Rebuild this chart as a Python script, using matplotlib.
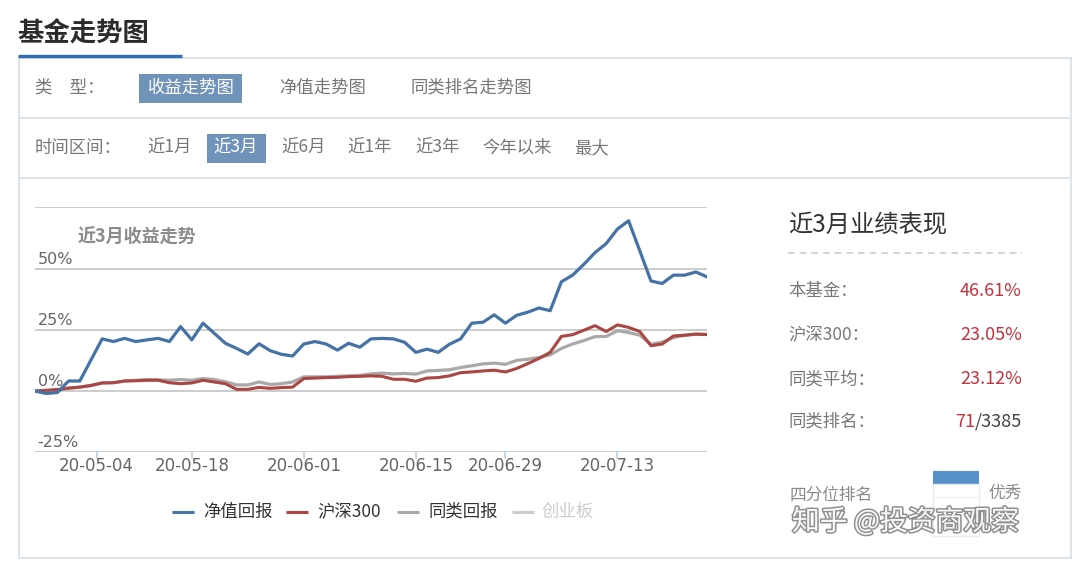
import bisect
import matplotlib
matplotlib.use("Agg")
import matplotlib.pyplot as plt
from matplotlib.patches import Rectangle
import matplotlib.patheffects as pe
import matplotlib.transforms as mtransforms

plt.rcParams['font.family'] = ['Noto Sans CJK SC', 'DejaVu Sans']
plt.rcParams['axes.unicode_minus'] = False

# ---------------- data ----------------
dates = ["04-23", "04-24", "04-27", "04-28", "04-29", "04-30",
         "05-06", "05-07", "05-08", "05-11", "05-12", "05-13", "05-14", "05-15",
         "05-18", "05-19", "05-20", "05-21", "05-22", "05-25", "05-26", "05-27",
         "05-28", "05-29",
         "06-01", "06-02", "06-03", "06-04", "06-05", "06-08", "06-09", "06-10",
         "06-11", "06-12", "06-15", "06-16", "06-17", "06-18", "06-19", "06-22",
         "06-23", "06-24", "06-29", "06-30",
         "07-01", "07-02", "07-03", "07-06", "07-07", "07-08", "07-09", "07-10",
         "07-13", "07-14", "07-15", "07-16", "07-17", "07-20", "07-21", "07-22",
         "07-23"]

fund = [0.0, -1.0, -0.6, 4.1, 4.1, 12.7, 21.3, 20.2, 21.5, 20.2,
        20.9, 21.5, 20.2, 26.3, 20.9, 27.7, 23.6, 19.5, 17.4, 15.1,
        19.3, 16.5, 15.0, 14.3, 19.2, 20.2, 19.2, 16.7, 19.5, 17.9,
        21.3, 21.5, 21.3, 19.9, 15.8, 17.1, 15.8, 19.1, 21.3, 27.7,
        28.1, 31.1, 27.7, 30.9, 32.2, 33.9, 32.8, 44.6, 47.3, 51.7,
        56.5, 60.2, 66.1, 69.5, 57.2, 44.9, 43.9, 47.3, 47.3, 48.6,
        46.61]

hs300 = [0.0, 0.3, 0.6, 1.2, 1.6, 2.3, 3.3, 3.4, 4.1, 4.2,
         4.4, 4.4, 3.4, 3.0, 3.3, 4.4, 3.7, 3.0, 0.7, 0.7,
         1.5, 1.1, 1.4, 1.6, 5.1, 5.3, 5.5, 5.6, 5.9, 6.0,
         6.2, 6.0, 4.8, 4.8, 4.0, 5.3, 5.5, 6.2, 7.5, 7.8,
         8.2, 8.5, 7.8, 9.2, 11.2, 13.3, 15.8, 22.3, 23.0, 24.8,
         26.7, 24.3, 27.0, 26.0, 24.3, 18.5, 19.2, 22.5, 22.8, 23.2,
         23.05]

peers = [0.0, 0.2, 0.5, 1.1, 1.6, 2.2, 3.3, 3.4, 4.1, 4.4,
         4.7, 4.6, 4.4, 4.7, 4.4, 5.1, 4.7, 3.8, 2.5, 2.5,
         3.7, 2.7, 3.0, 3.7, 5.8, 5.8, 5.8, 6.0, 6.2, 6.4,
         7.0, 7.3, 7.0, 7.2, 6.9, 8.2, 8.4, 8.7, 9.6, 10.3,
         11.1, 11.4, 10.9, 12.5, 13.0, 13.7, 14.8, 17.4, 19.2, 20.6,
         22.2, 22.3, 24.6, 23.9, 22.8, 19.1, 20.0, 21.8, 22.7, 23.3,
         23.12]

tick_dates = ["05-04", "05-18", "06-01", "06-15", "06-29", "07-13"]
y_ticks = [-25, 0, 25, 50, 75]
y_labels = {-25: "-25%", 0: "0%", 25: "25%", 50: "50%"}

series_names = ["净值回报", "沪深300", "同类回报", "创业板"]
series_colors = ["#4572A7", "#AA4643", "#A9A9A9", "#CCCCCC"]

type_tabs = ["收益走势图", "净值走势图", "同类排名走势图"]
time_tabs = ["近1月", "近3月", "近6月", "近1年", "近3年", "今年以来", "最大"]

perf_labels = ["本基金：", "沪深300：", "同类平均：", "同类排名："]
perf_values = ["46.61%", "23.05%", "23.12%"]
rank_value = ("71", "/3385")

# ---------------- figure ----------------
W, H = 1080, 565
fig = plt.figure(figsize=(W / 100, H / 100), dpi=100)
fig.patch.set_facecolor("white")

ov = fig.add_axes([0, 0, 1, 1])
ov.set_xlim(0, W)
ov.set_ylim(H, 0)
ov.axis("off")

# title
ov.text(17, 34, "基金走势图", fontsize=19, fontweight="bold", color="#2b2b2b",
        va="center", ha="left")
ov.plot([18, 182], [56, 56], color="#2f6db5", lw=2.4, solid_capstyle="butt")

# outer box and row separators
box_col = "#dde4ea"
ov.add_patch(Rectangle((18.5, 57.5), 1052, 500, fill=False, edgecolor=box_col, lw=1.5))
ov.plot([18.5, 1070.5], [118, 118], color=box_col, lw=1.5)
ov.plot([18.5, 1070.5], [178, 178], color=box_col, lw=1.5)

tab_fs = 12.5
sel_col = "#7093b9"
# type row
ov.text(35, 88, "类　型：", fontsize=tab_fs, color="#777777", va="center")
type_x = [148, 279, 411]
ov.add_patch(Rectangle((139, 74), 103, 29, color=sel_col, lw=0))
for i, (t, x) in enumerate(zip(type_tabs, type_x)):
    ov.text(x, 88, t, fontsize=tab_fs, color="white" if i == 0 else "#777777", va="center")

# time row
ov.text(35, 148, "时间区间：", fontsize=tab_fs, color="#777777", va="center")
time_x = [147, 213, 281, 347, 415, 482, 574]
ov.add_patch(Rectangle((207, 134), 59, 29, color=sel_col, lw=0))
for i, (t, x) in enumerate(zip(time_tabs, time_x)):
    ov.text(x, 148, t, fontsize=tab_fs, color="white" if i == 1 else "#777777", va="center")

# ---------------- chart ----------------
x0, x1 = 35, 707
ytop, ybot = 207.3, 452.3
ax = fig.add_axes([x0 / W, (H - ybot) / H, (x1 - x0) / W, (ybot - ytop) / H])
ax.set_facecolor("none")
for s in ax.spines.values():
    s.set_visible(False)
ax.set_xlim(0, len(dates) - 1)
ax.set_ylim(-25, 75)
ax.set_xticks([])
ax.set_yticks([])

for v in y_ticks:
    ax.axhline(v, color="#c6cdd4" if v == -25 else "#cccccc", lw=1.4, zorder=1)

trans = mtransforms.blended_transform_factory(ax.transAxes, ax.transData)
for v, lab in y_labels.items():
    ax.text(0.004, v + 0.8, lab, transform=trans, fontsize=11.5, color="#666666",
            ha="left", va="bottom", family=["DejaVu Sans"])

ax.text(0.064, 62.8, "近3月收益走势", transform=trans, fontsize=13, fontweight="bold",
        color="#8c8c8c", ha="left", va="center")

xs = list(range(len(dates)))
ax.plot(xs, peers, color=series_colors[2], lw=2.3, zorder=3, solid_joinstyle="round")
ax.plot(xs, hs300, color=series_colors[1], lw=2.2, zorder=4, solid_joinstyle="round")
ax.plot(xs, fund, color=series_colors[0], lw=2.3, zorder=5, solid_joinstyle="round")

# x ticks (category axis with ordinal positions)
for d in tick_dates:
    k = bisect.bisect_left(dates, d)
    pos = k if (k < len(dates) and dates[k] == d) else k - 0.5
    ax.plot([pos, pos], [-25, -27.4], color="#c0d0e0", lw=1.2, clip_on=False)
    ax.text(pos, -30.5, "20-" + d, fontsize=12, color="#666666", ha="center",
            va="center", family=["DejaVu Sans"], clip_on=False)

# legend
leg_line_x = [172, 286, 397, 512]
leg_text_x = [203, 317, 428, 542]
for name, col, lx, tx, in zip(series_names, series_colors, leg_line_x, leg_text_x):
    ov.plot([lx, lx + 22], [512, 512], color=col, lw=2.2, solid_capstyle="butt")
    ov.text(tx, 512, name, fontsize=12.5, color="#cccccc" if name == "创业板" else "#333333",
            va="center", ha="left")

# ---------------- right panel ----------------
ov.text(788, 225, "近3月业绩表现", fontsize=17.5, color="#333333", va="center", ha="left")
ov.plot([788, 1022], [253, 253], color="#cccccc", lw=1.2, ls=(0, (4, 3)))
row_y = [291, 335, 379, 422]
val_col = "#c4323f"
for lab, y in zip(perf_labels, row_y):
    ov.text(788, y, lab, fontsize=12.5, color="#777777", va="center", ha="left")
for val, y in zip(perf_values, row_y[:3]):
    ov.text(1022, y, val, fontsize=13, color=val_col, va="center", ha="right")
t2 = ov.text(1022, row_y[3], rank_value[1], fontsize=13, color="#444444", va="center", ha="right")
fig.canvas.draw()
bb = t2.get_window_extent()
ov.text(bb.x0, H - (bb.y0 + bb.y1) / 2, rank_value[0], fontsize=13, color=val_col,
        va="center", ha="right")

# quartile ranking fragment
ov.add_patch(Rectangle((933, 471), 46, 13, color="#5592cb", lw=0))
ov.add_patch(Rectangle((933, 484), 46, 52, fill=False, edgecolor="#ececec", lw=1))
ov.plot([933, 979], [497, 497], color="#f0f0f0", lw=1)
ov.text(790, 495, "四分位排名", fontsize=12, color="#888888", va="center", ha="left")
ov.text(988, 493, "优秀", fontsize=12, color="#888888", va="center", ha="left")

# watermark
ov.text(792, 522, "知乎 @投资商观察", fontsize=20, color="white", va="center", ha="left",
        alpha=0.95,
        path_effects=[pe.withStroke(linewidth=2.2, foreground="#8a8a8a")])

fig.savefig("out.png", dpi=100)
